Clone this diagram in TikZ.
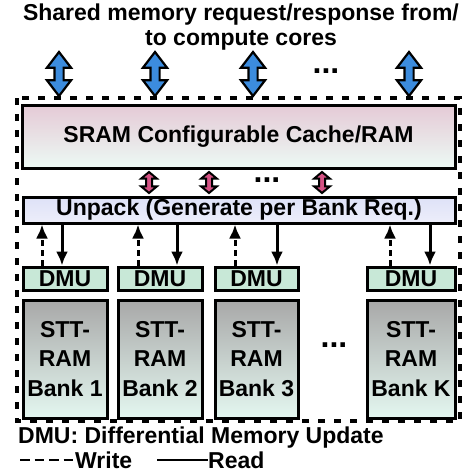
\documentclass[tikz,border=0pt]{standalone}
\usepackage{fontspec}
\setmainfont{Liberation Sans}
\usepackage{tikz}
\usetikzlibrary{positioning, arrows.meta, shapes.arrows}

\definecolor{portblue}{RGB}{60,140,222}
\definecolor{portpink}{RGB}{212,82,132}
\definecolor{srampink}{RGB}{220,184,200}
\definecolor{unpackblue}{RGB}{222,225,247}
\definecolor{dmugreen}{RGB}{200,232,215}
\definecolor{bankgray}{RGB}{168,168,168}
\definecolor{bankmint}{RGB}{228,247,240}

\begin{document}
\begin{tikzpicture}[x=1pt, y=-1pt,
  font=\fontsize{23}{25}\selectfont\bfseries,
  box/.style={draw=black, line width=3pt, inner sep=0pt},
  port/.style={double arrow, draw=black, line width=2.2pt, rotate=90},
  writeline/.style={line width=3pt, dash pattern=on 6pt off 4pt, -{Latex[length=14pt,width=12pt]}},
  readline/.style={line width=3pt, -{Latex[length=14pt,width=12pt]}},
  moredots/.style={font=\fontsize{32}{32}\selectfont\bfseries, inner sep=0pt}]
  \useasboundingbox (0,0) rectangle (474,474);

  % title
  \node (title) at (241,27) [align=center] {Shared memory request/response from/\\to compute cores};

  % ports to the compute cores
  \foreach \i/\x in {1/59, 2/155, 3/253, 4/409}
    \node[port, fill=portblue, inner sep=3.5pt, minimum height=44pt,
      double arrow head extend=7.5pt, double arrow tip angle=75] (core\i) at (\x,74) {};
  \node[moredots] (coredots) at (326,71) {...};

  % dashed frame
  \draw[line width=3.5pt, dash pattern=on 7pt off 9pt] (17,98) rectangle (460,421);

  % SRAM and unpack
  \node[box, minimum width=433pt, minimum height=63pt,
    top color=srampink!75, middle color=srampink, bottom color=bankmint!70] (sram) at (238.5,136.5)
    {SRAM Configurable Cache/RAM};
  \node[box, minimum width=432pt, minimum height=26pt,
    top color=unpackblue, bottom color=unpackblue!55] (unpack) at (239,210)
    {Unpack (Generate per Bank Req.)};

  \foreach \i/\x in {1/149, 2/209, 3/322}
    \node[port, fill=portpink, inner sep=2pt, minimum height=21pt, line width=2pt,
      double arrow head extend=5pt, double arrow tip angle=100] (req\i) at (\x,182.5) {};
  \node[moredots] (reqdots) at (267,180) {...};

  % banks
  \foreach \i/\x/\w/\n/\u/\d in {1/65/84/1/42/62, 2/160/84/2/138/177, 3/256.5/83/3/235/277, 4/411/88/K/390/430} {
    \node[box, fill=dmugreen, minimum width=\w pt, minimum height=23pt] (dmu\i) at (\x,278.5) {DMU};
    \node[box, minimum width=\w pt, minimum height=118pt, top color=bankgray, bottom color=bankmint,
      align=center, font=\fontsize{23}{29.5}\selectfont\bfseries, below=7pt of dmu\i] (bank\i)
      {STT-\\RAM\\Bank \n};
    \coordinate (up\i) at (\u,0);
    \coordinate (down\i) at (\d,0);
    \draw[writeline] (dmu\i.north -| up\i) -- (unpack.south -| up\i);
    \draw[readline] (unpack.south -| down\i) -- (dmu\i.north -| down\i);
  }
  \node[moredots] (bankdots) at (334,345) {...};

  % legend
  \node[anchor=west, inner sep=0pt] (legend) at (18,438) {DMU: Differential Memory Update};
  \node[anchor=west, inner sep=0pt] (write) at (75,460) {Write};
  \node[anchor=west, inner sep=0pt] (read) at (208,460) {Read};
  \coordinate (wstart) at (20,460);
  \coordinate (rstart) at (157,460);
  \draw[line width=2.8pt, dash pattern=on 9.5pt off 5pt] (wstart) -- (write.west);
  \draw[line width=2.8pt] (rstart) -- (read.west);
\end{tikzpicture}
\end{document}
